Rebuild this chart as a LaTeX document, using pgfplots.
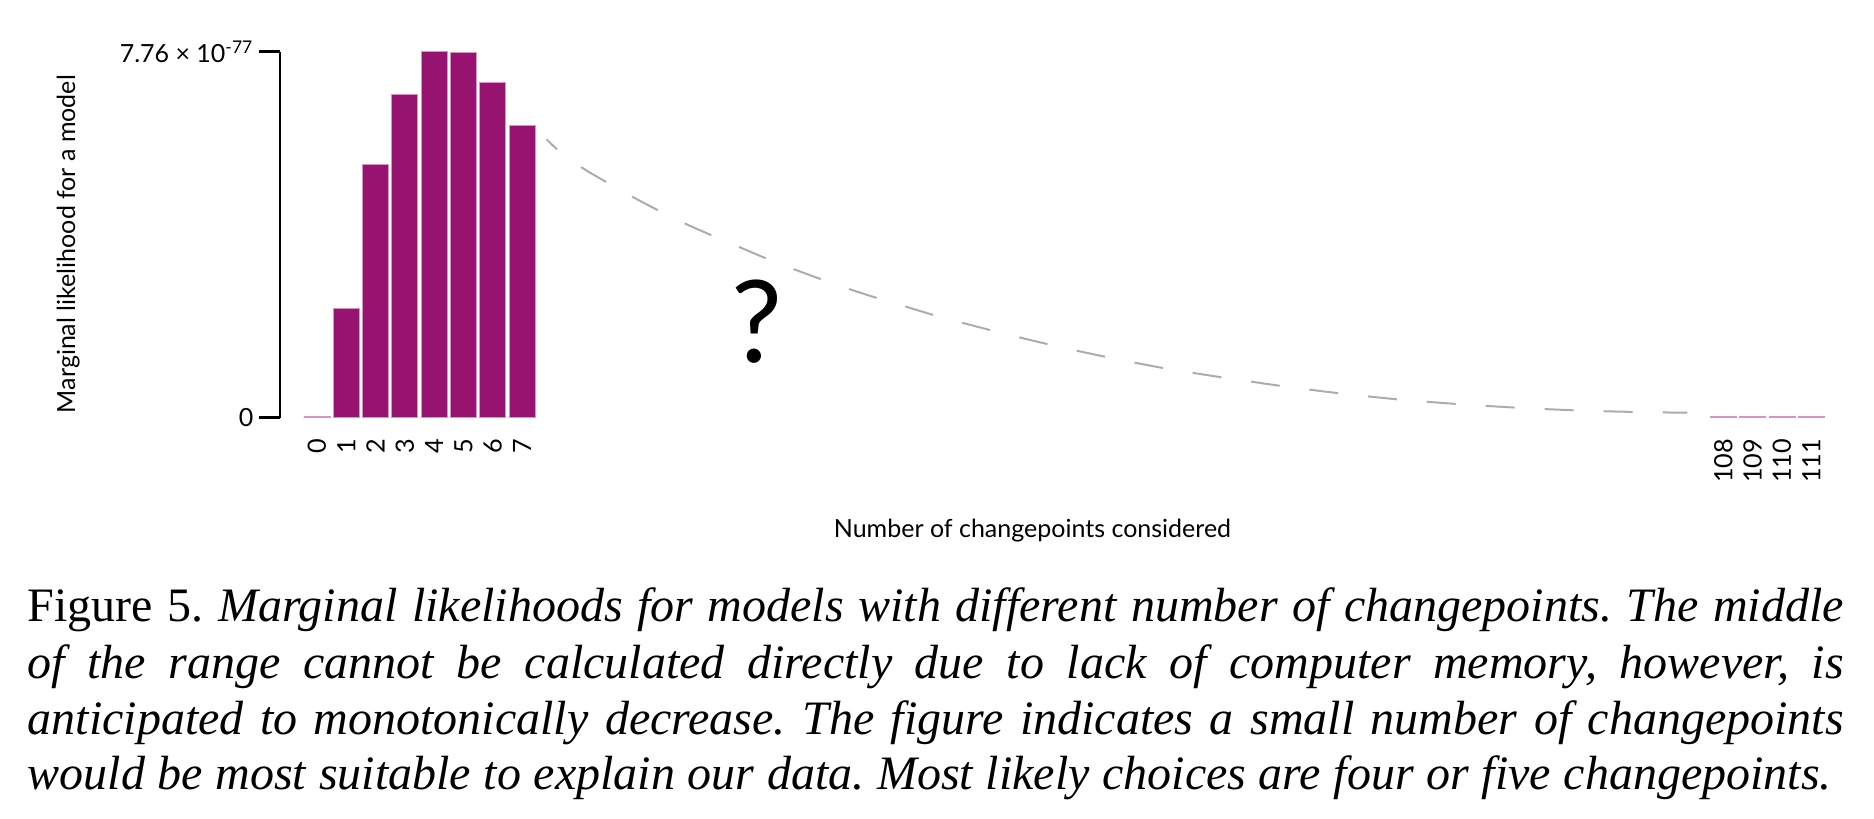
\documentclass[border=0pt]{standalone}
\usepackage{fontspec}
\setmainfont{Liberation Serif}
\newfontfamily\lato{Lato}
\usepackage{pgfplots}
\pgfplotsset{compat=1.18}
\definecolor{barcol}{RGB}{150,20,111}
\definecolor{baredge}{RGB}{214,150,196}
\definecolor{curvecol}{RGB}{172,172,172}
\frenchspacing
\begin{document}
\begin{tikzpicture}
\path[use as bounding box] (0,0) rectangle (937pt,409.5pt);
\begin{axis}[
  at={(139.85pt,200.65pt)}, anchor=south west,
  scale only axis, width=780.4pt, height=183pt,
  xmin=-1.27, xmax=52, ymin=0, ymax=7.76,
  clip=false,
  axis lines*=left,
  x axis line style={draw=none},
  y axis line style={black, line width=1.2pt},
  tick align=outside,
  major tick length=10.5pt,
  xtick={0,1,2,3,4,5,6,7,48,49,50,51},
  xticklabels={0,1,2,3,4,5,6,7,108,109,110,111},
  xtick style={draw=none},
  xticklabel style={rotate=90, anchor=east, inner sep=0pt, font=\lato\fontsize{12.6}{14}\selectfont},
  ytick={0,7.76},
  yticklabels={0,{7.76 × 10\textsuperscript{-77}}},
  ytick style={black, line width=1.2pt},
  yticklabel style={inner sep=0pt, xshift=-2.5pt, font=\lato\fontsize{12.5}{14}\selectfont},
]
\addplot[ybar, bar width=13pt, fill=barcol, draw=baredge, line width=0.4pt]
  coordinates {(0,0.03) (1,2.31) (2,5.36) (3,6.86) (4,7.76) (5,7.75) (6,7.11) (7,6.19)
               (48,0.02) (49,0.02) (50,0.02) (51,0.02)};
\addplot[smooth, curvecol, line width=1pt, dash pattern=on 14.5pt off 15pt, dash phase=7.3pt]
  coordinates {(7.84,5.903) (8.20,5.691) (9.03,5.309) (9.89,4.991) (10.80,4.673) (11.67,4.389)
               (12.62,4.100) (13.53,3.852) (14.47,3.604) (15.38,3.365) (16.35,3.132) (17.28,2.920)
               (18.26,2.708) (19.22,2.517) (20.22,2.332) (21.17,2.156) (23.2,1.822) (25.2,1.522)
               (27.2,1.254) (29.2,1.016) (30.14,0.927) (31.10,0.835) (33.10,0.657) (35.11,0.502)
               (37.13,0.375) (39.16,0.280) (41.17,0.205) (43.20,0.150) (45.25,0.118) (46.77,0.106)};
\end{axis}
\node[rotate=90, anchor=base, inner sep=0pt, font=\lato\fontsize{12.5}{15}\selectfont] at (37.5pt,287.5pt) {Marginal likelihood for a model};
\node[anchor=base, inner sep=0pt, font=\lato\fontsize{12.5}{15}\selectfont] at (516.25pt,140.85pt) {Number of changepoints considered};
\node[inner sep=0pt, font=\lato\fontsize{57}{60}\selectfont] at (378.5pt,248.5pt) {?};
\begin{scope}[every node/.style={anchor=base west, inner sep=0pt, font=\fontsize{24}{28}\selectfont}]
\node at (13.65pt,98.65pt) {\makebox[908pt][s]{Figure 5. \textit{Marginal likelihoods for models with different number of changepoints. The middle}}};
\node at (13.65pt,70.35pt) {\makebox[908pt][s]{\textit{of the range cannot be calculated directly due to lack of computer memory, however, is}}};
\node at (13.65pt,42.35pt) {\makebox[908pt][s]{\textit{anticipated to monotonically decrease. The figure indicates a small number of changepoints}}};
\node at (13.65pt,14.5pt) {\makebox[902pt][s]{\textit{would be most suitable to explain our data. Most likely choices are four or five changepoints.}}};
\end{scope}
\end{tikzpicture}
\end{document}
